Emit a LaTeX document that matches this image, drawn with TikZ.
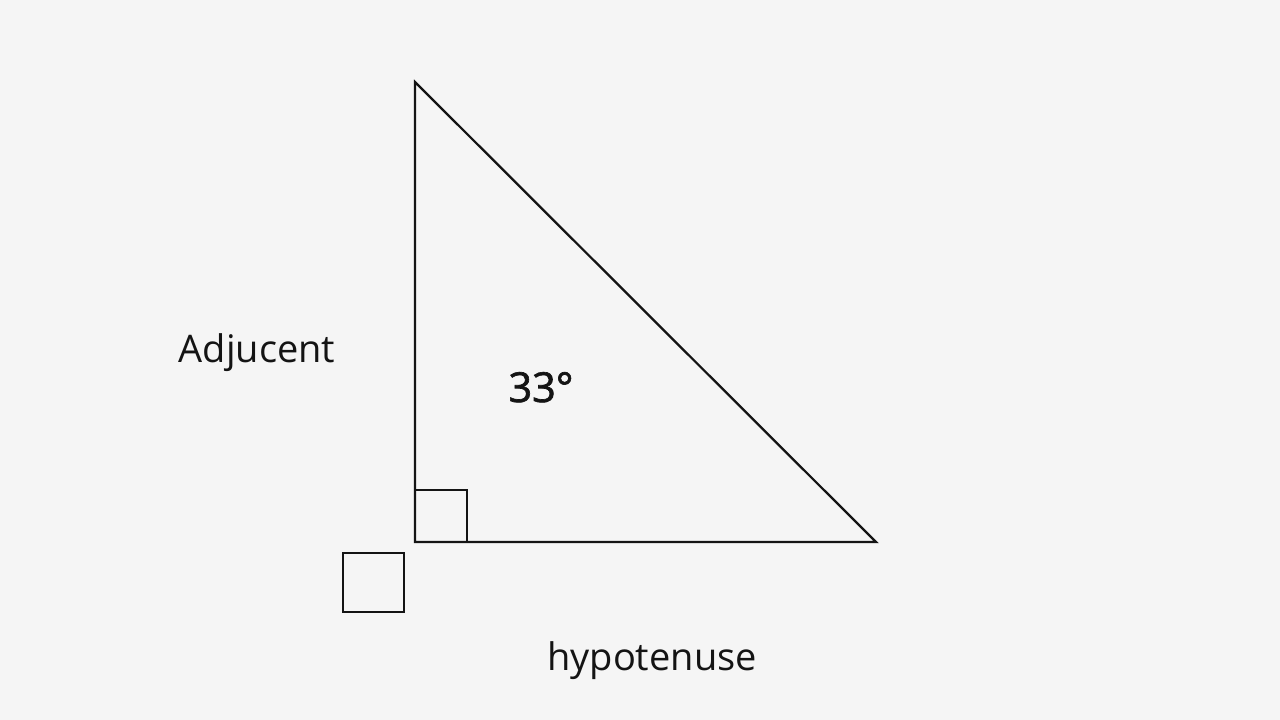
\documentclass[tikz,border=0pt]{standalone}
\usepackage{fontspec}
\setmainfont{Open Sans}
\definecolor{bgcol}{HTML}{F5F5F5}
\definecolor{inkcol}{HTML}{141414}
\begin{document}
\begin{tikzpicture}[x=0.75pt, y=-0.75pt, line width=1.7pt, draw=inkcol,
    lbl/.style={anchor=base, text=inkcol, font=\fontsize{28.5}{34}\selectfont}]
    % 背景
    \fill[bgcol] (0, 0) rectangle (1280, 720);
    \useasboundingbox (0, 0) rectangle (1280, 720);

    % 定義頂點的位置
    \coordinate (A) at (415, 82);
    \coordinate (B) at (415, 542);
    \coordinate (C) at (876, 542);

    % 畫出三角形
    \draw[inkcol] (A) -- (B) -- (C) -- cycle;

    % 直角記號
    \draw[inkcol] (415, 490) rectangle (467, 542);
    \draw[inkcol] (343, 553) rectangle (404, 612);

    % 標籤
    \node[lbl] (adj) at (257, 362) {Adjucent};
    \node[lbl, font=\fontsize{31}{36}\selectfont\addfontfeature{FakeBold=1.6}] (ang) at (541, 402) {33°};
    \node[lbl] (hyp) at (652, 670) {hypotenuse};
\end{tikzpicture}
\end{document}
